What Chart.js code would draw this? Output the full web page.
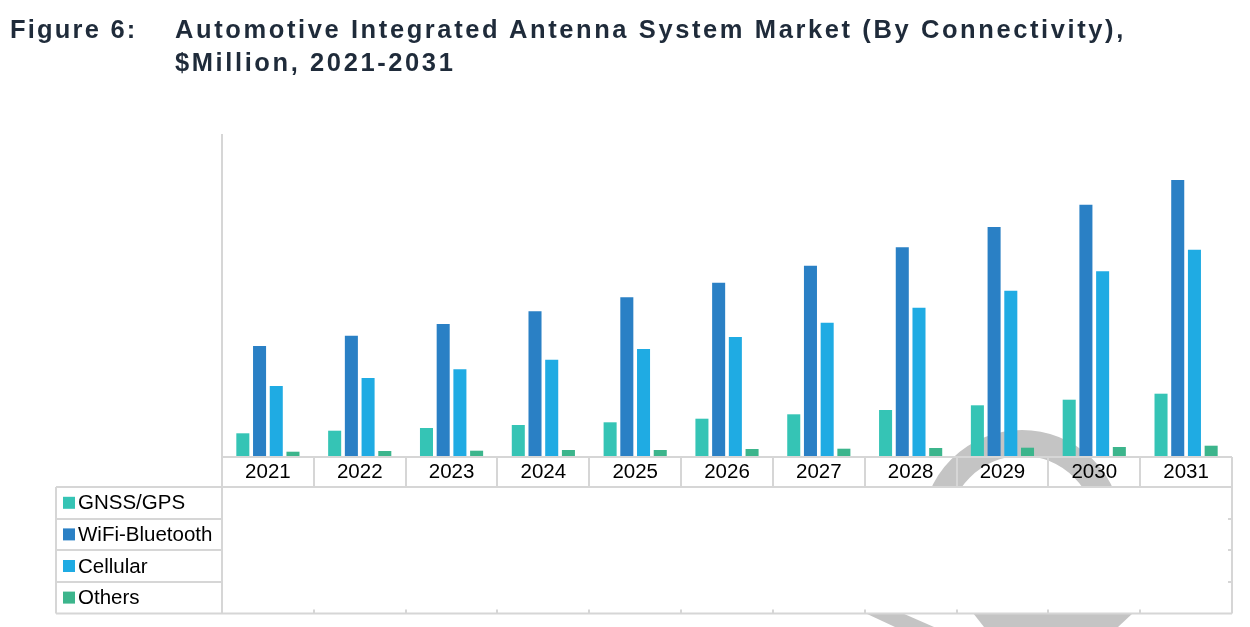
<!DOCTYPE html>
<html>
<head>
<meta charset="utf-8">
<script src="https://cdn.jsdelivr.net/npm/chart.js@4.4.1/dist/chart.umd.min.js"></script>
<style>
  html, body { margin: 0; padding: 0; background: #ffffff; }
  #wrap { position: relative; width: 1250px; height: 627px; overflow: hidden; }
  #c { position: absolute; left: 0; top: 0; }
  .t { position: absolute; font-family: "Liberation Sans", Arial, sans-serif; font-weight: bold;
       font-size: 25.5px; letter-spacing: 2.6px; color: #1f2b3a; white-space: nowrap; line-height: 33px; }
</style>
</head>
<body>
<div id="wrap">
  <canvas id="c" width="1250" height="627"></canvas>
  <div class="t" style="left:10px; top:13px; letter-spacing:2.2px;">Figure 6:</div>
  <div class="t" style="left:175px; top:13px;">Automotive Integrated Antenna System Market (By Connectivity),<br>$Million, 2021-2031</div>
</div>
<script>
// ---- data ($Million) ----
const categories = ['2021','2022','2023','2024','2025','2026','2027','2028','2029','2030','2031'];
const seriesNames = ['GNSS/GPS','WiFi-Bluetooth','Cellular','Others'];
const gnss     = [237, 263, 290, 320, 347, 383, 427, 470, 517, 573, 633];
const wifi     = [1110, 1213, 1330, 1457, 1597, 1743, 1913, 2097, 2300, 2523, 2770];
const cellular = [710, 790, 877, 973, 1080, 1200, 1343, 1493, 1663, 1857, 2073];
const others   = [53, 60, 63, 70, 70, 80, 83, 90, 93, 100, 113];
const seriesColors = ['#35c4b5', '#2a80c5', '#1fabe3', '#3cb58c'];

const FONT = '"Liberation Sans", Arial, sans-serif';
const GRID = '#d6d6d6';

const tablePlugin = {
  id: 'tablePlugin',
  beforeDraw(chart) {
    const ctx = chart.ctx;
    const ca = chart.chartArea;
    ctx.save();
    ctx.fillStyle = '#ffffff';
    ctx.fillRect(0, 0, chart.width, chart.height);
    // watermark (grey ring)
    ctx.save();
    ctx.beginPath();
    ctx.rect(0, 0, chart.width, 613);
    ctx.clip();
    ctx.beginPath();
    ctx.arc(1022, 530, 87, 0, Math.PI * 2);
    ctx.strokeStyle = '#c4c4c4';
    ctx.lineWidth = 26;
    ctx.stroke();
    ctx.restore();
    ctx.fillStyle = '#c4c4c4';
    ctx.beginPath();
    ctx.moveTo(865, 613); ctx.lineTo(902, 613); ctx.lineTo(934, 627); ctx.lineTo(895, 627); ctx.closePath(); ctx.fill();
    ctx.beginPath();
    ctx.moveTo(973, 613); ctx.lineTo(1133, 613); ctx.lineTo(1118, 627); ctx.lineTo(984, 627); ctx.closePath(); ctx.fill();
    // white table body
    const headerH = 30, rowH = 31.6;
    const tableTop = ca.bottom + headerH;
    ctx.fillStyle = '#ffffff';
    ctx.fillRect(56, tableTop, ca.right - 56, rowH * 4);
    ctx.restore();
  },
  afterDraw(chart) {
    const ctx = chart.ctx;
    const ca = chart.chartArea;
    const headerH = 30, rowH = 31.6;
    const tableTop = ca.bottom + headerH;
    const tableBottom = tableTop + rowH * 4;
    const legendLeft = 56;
    const n = categories.length;
    const step = (ca.right - ca.left) / n;
    ctx.save();
    ctx.strokeStyle = GRID;
    ctx.lineWidth = 2;
    // header row
    ctx.beginPath();
    ctx.moveTo(ca.left, ca.bottom); ctx.lineTo(ca.right, ca.bottom);
    ctx.moveTo(legendLeft, tableTop); ctx.lineTo(ca.right, tableTop);
    for (let i = 0; i <= n; i++) {
      const px = Math.round(ca.left + i * step);
      ctx.moveTo(px, ca.bottom); ctx.lineTo(px, tableTop);
    }
    // outer table border
    ctx.moveTo(ca.right, ca.bottom); ctx.lineTo(ca.right, tableBottom);
    ctx.moveTo(legendLeft, tableBottom); ctx.lineTo(ca.right, tableBottom);
    ctx.moveTo(legendLeft, tableTop); ctx.lineTo(legendLeft, tableBottom);
    ctx.moveTo(ca.left, ca.bottom); ctx.lineTo(ca.left, tableBottom);
    // legend rows
    for (let r = 1; r < 4; r++) {
      const py = Math.round(tableTop + r * rowH);
      ctx.moveTo(legendLeft, py); ctx.lineTo(ca.left, py);
      ctx.moveTo(ca.right - 4, py); ctx.lineTo(ca.right, py);
    }
    for (let i = 1; i < n; i++) {
      const px = Math.round(ca.left + i * step);
      ctx.moveTo(px, tableBottom - 4); ctx.lineTo(px, tableBottom);
    }
    ctx.stroke();
    // legend entries
    ctx.font = '20.5px ' + FONT;
    ctx.textBaseline = 'middle';
    chart.data.datasets.forEach((ds, r) => {
      const cy = tableTop + r * rowH + rowH / 2;
      ctx.fillStyle = ds.backgroundColor;
      ctx.fillRect(63, cy - 6, 12, 12);
      ctx.fillStyle = '#000000';
      ctx.fillText(ds.label, 78, cy + 1);
    });
    ctx.restore();
  }
};

new Chart(document.getElementById('c'), {
  type: 'bar',
  data: {
    labels: categories,
    datasets: [
      { label: seriesNames[0], data: gnss, backgroundColor: seriesColors[0] },
      { label: seriesNames[1], data: wifi, backgroundColor: seriesColors[1] },
      { label: seriesNames[2], data: cellular, backgroundColor: seriesColors[2] },
      { label: seriesNames[3], data: others, backgroundColor: seriesColors[3] }
    ]
  },
  options: {
    responsive: false,
    animation: false,
    devicePixelRatio: 1,
    layout: { padding: { left: 222, right: 18, top: 135, bottom: 140 } },
    datasets: { bar: { categoryPercentage: 0.728, barPercentage: 0.78 } },
    plugins: { legend: { display: false }, tooltip: { enabled: false }, title: { display: false } },
    scales: {
      x: {
        grid: { display: false, drawTicks: false },
        border: { display: false },
        ticks: { color: '#000000', font: { family: FONT, size: 20.5 }, padding: 3, maxRotation: 0, autoSkip: false },
        afterFit(scale) { scale.height = 30; }
      },
      y: {
        min: 0, max: 3220,
        grid: { display: false, drawTicks: false },
        border: { display: true, color: GRID, width: 2 },
        ticks: { display: false },
        afterFit(scale) { scale.width = 0; }
      }
    }
  },
  plugins: [tablePlugin]
});
</script>
</body>
</html>
